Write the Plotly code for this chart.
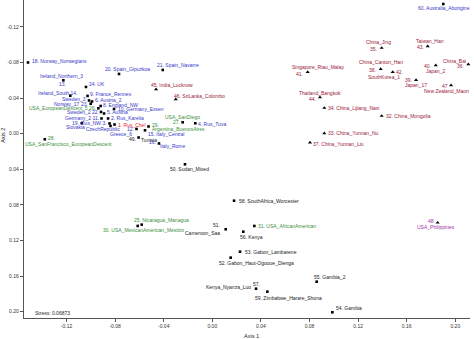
import plotly.graph_objects as go

# ---------------- data ----------------
NAMES = ["Norway_Norwegians", "Spain_Gipuzkoa", "Spain_Navarre", "Ireland_Northern_3", "UK",
         "Ireland_South", "France_Rennes", "Norway_17", "Sweden_3", "Austria_2",
         "England_NW", "USA_EuropeanDescent_5", "Germany_Essen", "Sweden_2", "Austria",
         "Germany_2", "Rus_Karelia", "Slovakia", "Rus_NW", "CzechRepublic",
         "Rus_Chel", "Greece_6", "Argentina_BuenosAires", "Italy_Central", "Tunisia",
         "Italy_Rome", "USA_SanDiego", "Rus_Tuva", "USA_SanFrancisco_EuropeanDescent", "Sudan_Mixed",
         "Australia_Aborigine", "India_Lucknow", "SriLanka_Colombo", "Singapore_Riau_Malay", "Thailand_Bangkok",
         "China_Lijiang_Naxi", "China_Yunnan_Nu", "China_Yunnan_Liu", "China_Mongolia", "China_Jing",
         "Taiwan_Han", "China_Canton_Han", "SouthKorea_1", "Japan_2", "Japan_17",
         "China_Bai", "New Zealand_Maori", "Nicaragua_Managua", "USA_MexicanAmerican_Mestizo", "USA_AfricanAmerican",
         "USA_Philippines", "SouthAfrica_Worcester", "Cameroon_Saa", "Kenya", "Gabon_Lambarene",
         "Gabon_Haut-Ogooue_Dienga", "Gambia_2", "Kenya_Nyanza_Luo", "Zimbabwe_Harare_Shona", "Gambia"]
NUMS = [18, 20, 21, 13, 24, 14, 9, 17, 23, 6,
        8, 26, 10, 22, 5, 11, 2, 19, 3, 7,
        1, 12, 29, 15, 49, 16, 27, 4, 28, 50,
        60, 45, 46, 41, 44, 34, 33, 37, 32, 35,
        43, 38, 42, 40, 39, 36, 47, 25, 30, 31,
        48, 58, 51, 56, 53, 52, 55, 57, 59, 54]
AXIS1 = [-0.1517, -0.0768, -0.0408, -0.1226, -0.1040, -0.1169, -0.1027, -0.1015, -0.1001, -0.0990,
         -0.0919, -0.0938, -0.0809, -0.0916, -0.0891, -0.0912, -0.0858, -0.1075, -0.0846, -0.0838,
         -0.0805, -0.0624, -0.0525, -0.0554, -0.0607, -0.0439, -0.0244, -0.0140, -0.1379, -0.0225,
         0.1901, -0.0463, -0.0301, 0.0785, 0.0886, 0.0922, 0.0922, 0.0804, 0.1394, 0.1394,
         0.1773, 0.1386, 0.1485, 0.1839, 0.1677, 0.2107, 0.1965, -0.0581, -0.0614, 0.0346,
         0.1855, 0.0179, 0.0110, 0.0255, 0.0228, 0.0151, 0.0859, 0.0360, 0.0453, 0.0988]
AXIS2 = [-0.0800, -0.0671, -0.0716, -0.0600, -0.0525, -0.0427, -0.0424, -0.0373, -0.0337, -0.0362,
         -0.0311, -0.0285, -0.0278, -0.0244, -0.0227, -0.0171, -0.0171, -0.0117, -0.0115, -0.0087,
         -0.0103, -0.0053, -0.0081, -0.0038, 0.0043, 0.0110, -0.0128, -0.0117, 0.0063, 0.0344,
         -0.1457, -0.0499, -0.0387, -0.0693, -0.0409, -0.0289, -0.0004, 0.0101, -0.0199, -0.0963,
         -0.0982, -0.0727, -0.0693, -0.0769, -0.0603, -0.0780, -0.0544, 0.1022, 0.1037, 0.1037,
         0.1000, 0.0753, 0.1074, 0.1101, 0.1326, 0.1393, 0.1663, 0.1742, 0.1775, 0.2007]
GROUP = (["EU"] * 11 + ["AM"] + ["EU"] * 8 + ["HL", "EU", "AM", "EU", "AF", "EU", "AM", "EU", "AM", "AF"]
         + ["OC"] + ["AS"] * 16 + ["AM", "AM", "AM", "PH"] + ["AF"] * 9)

TICKS = [-0.12, -0.08, -0.04, 0.00, 0.04, 0.08, 0.12, 0.16, 0.20]
TICK_LABELS = ["-0.12", "-0.08", "-0.04", "0.00", "0.04", "0.08", "0.12", "0.16", "0.20"]
STRESS = "Stress: 0.06873"

# ---------------- styles ----------------
COLORS = {"EU": "#3838c8", "OC": "#3838c8", "AS": "#9a2038", "AM": "#3a8f3a",
          "AF": "#1a1a1a", "PH": "#a030a8", "HL": "#e4231f"}
SYMBOLS = {"EU": "square", "OC": "square", "AS": "triangle-up", "AM": "square",
           "AF": "square", "PH": "triangle-up", "HL": "square"}

# label parts per point: (template, anchor, dx px, dy px downward)
LABELS = [
    [("{n}. {name}", 'l', 3, -1.5)],
    [("{n}. {name}", 'c', 8, -4.5)],
    [("{n}. {name}", 'c', 15, -5)],
    [("{name}", 'c', -2, -4), ("{n}.", 'c', -1, 4)],
    [("{n}. {name}", 'l', 2, -2.5)],
    [("{name} {n}.", 'r', 8, -3)],
    [("{n}. {name}", 'l', 1.5, -2)],
    [("{name}", 'r', -8, 3.5)],
    [("{name}", 'r', -3.7, -4.7), ("{n}.", 'r', -2.2, 0.3)],
    [("{n}. {name}", 'l', 1.5, -1.5)],
    [("{n}. {name}", 'l', 1.5, -1.5)],
    [("{name} {n}.", 'r', -1.5, 0)],
    [("{n}. {name}", 'l', 3, 0)],
    [("{name} {n}.", 'r', -1, 0)],
    [("{n}. {name}", 'l', 1.5, -1)],
    [("{name} {n}.", 'r', -1.5, -0.8)],
    [("{n}. {name}", 'l', 2, -0.8)],
    [("{n}.", 'r', -1.5, 0), ("{name}", 'c', -6, 3.7)],
    [("{name} {n}.", 'r', -2, -0.7)],
    [("{name}", 'c', -7.5, 3.5)],
    [("{n}. {name}", 'l', 2, 0)],
    [("{n}.", 'r', -1.5, 0), ("{name}", 'c', -16, 4.7)],
    [("{n}.", 'l', 2, -1.5), ("{name}", 'l', 2.5, 3)],
    [("{n}. {name}", 'l', 2, 4)],
    [("{n}.", 'r', -1.5, 1.7), ("{name}", 'l', 1.5, 2)],
    [("{n}.", 'r', -1.5, -1), ("{name}", 'l', 0, 3)],
    [("{name}", 'c', 0, -5), ("{n}.", 'r', -2, 0)],
    [("{n}. {name}", 'l', 2, 0.5)],
    [("{n}.", 'l', 2, -1.5), ("{name}", 'c', 24, 4.7)],
    [("{n}. {name}", 'c', 5, 5)],
    [("{n}. {name}", 'c', 1, 4.3)],
    [("{n}. {name}", 'c', 16, -4.3)],
    [("{n}. {name}", 'l', -2.7, -3.3)],
    [("{name}", 'c', 10, -5), ("{n}.", 'r', -4, 2)],
    [("{name}", 'c', 0, -4), ("{n}.", 'r', -2.5, 2)],
    [("{n}. {name}", 'l', 2.5, 0)],
    [("{n}. {name}", 'l', 2.5, 0)],
    [("{n}. {name}", 'l', 2, 1.3)],
    [("{n}. {name}", 'l', 3, 0)],
    [("{name}", 'c', -3, -5.7), ("{n}.", 'r', -4, 0.7)],
    [("{name}", 'c', 2.3, -5.6), ("{n}.", 'r', -2.5, 0.7)],
    [("{name}", 'c', 0, -6.7), ("{n}.", 'r', -4, 1)],
    [("{n}.", 'l', 2.5, 0), ("{name}", 'c', -8.7, 5.3)],
    [("{n}.", 'r', -4, 1), ("{name}", 'c', 0, 5.4)],
    [("{n}.", 'r', -3, 0), ("{name}", 'c', 0, 5)],
    [("{name}", 'r', -1, -3.6), ("{n}.", 'r', -3, 2)],
    [("{n}", 'r', -2, 0.7), ("{name}", 'c', -5, 5.4)],
    [("{n}. {name}", 'c', 20, -5)],
    [("{n}. {name}", 'c', 6, 4)],
    [("{n}. {name}", 'l', 2.5, 0)],
    [("{n}", 'r', -3, -1.4), ("{name}", 'c', -2, 4.6)],
    [("{n}. {name}", 'l', 4, 0)],
    [("{n}.", 'r', -4.7, -4.3), ("{name}", 'c', -22.7, 3.4)],
    [("{n}. {name}", 'c', 8, 5.6)],
    [("{n}. {name}", 'l', 4, 0)],
    [("{n}. {name}", 'c', 26, 5.6)],
    [("{n}. {name}", 'c', 13, -5)],
    [("{n}.", 'c', 0.5, -4.7), ("{name}", 'r', -4, -2)],
    [("{n}. {name}", 'c', 21, 6)],
    [("{n}. {name}", 'l', 3, -4)],
]

FONT = "Liberation Sans, Arial, sans-serif"
ANCH = {'l': 'left', 'c': 'center', 'r': 'right'}

fig = go.Figure()
for g in ["EU", "AM", "AF", "AS", "OC", "PH", "HL"]:
    idx = [i for i, gg in enumerate(GROUP) if gg == g]
    if not idx:
        continue
    fig.add_trace(go.Scatter(
        x=[AXIS1[i] for i in idx], y=[AXIS2[i] for i in idx], mode="markers",
        marker=dict(symbol=SYMBOLS[g], size=3.6 if SYMBOLS[g] == "triangle-up" else 2.6,
                    color="#000000", line=dict(width=0)),
        hoverinfo="text", text=[NAMES[i] for i in idx], showlegend=False,
        cliponaxis=False))

annotations = []
for i, parts in enumerate(LABELS):
    col = COLORS[GROUP[i]]
    for tmpl, anc, dx, dy in parts:
        annotations.append(dict(
            x=AXIS1[i], y=AXIS2[i], xref="x", yref="y", showarrow=False,
            text=tmpl.format(n=NUMS[i], name=NAMES[i]),
            xanchor=ANCH[anc], yanchor="middle", xshift=dx, yshift=-dy,
            borderpad=0, font=dict(family=FONT, size=5, color=col)))

annotations += [
    dict(text="Axis 1", xref="paper", yref="paper", x=0.511, y=-0.057, showarrow=False,
         xanchor="center", yanchor="middle", font=dict(family=FONT, size=5.5, color="#222")),
    dict(text="Axis 2", xref="paper", yref="paper", x=-0.046, y=0.575, showarrow=False,
         textangle=-90, xanchor="center", yanchor="middle", font=dict(family=FONT, size=5.5, color="#222")),
    dict(text=STRESS, xref="paper", yref="paper", x=0.02, y=0.017, showarrow=False,
         xanchor="left", yanchor="middle", font=dict(family=FONT, size=5, color="#222")),
]

axis_common = dict(showline=True, linecolor="#555555", linewidth=1.4, ticks="outside",
                   ticklen=3, tickwidth=1, tickcolor="#555555", showgrid=False, zeroline=False,
                   tickfont=dict(family=FONT, size=5, color="#333333"),
                   tickvals=TICKS, ticktext=TICK_LABELS)

fig.update_layout(
    width=474, height=339, autosize=False,
    margin=dict(l=24, r=4, t=0, b=21, pad=0),
    plot_bgcolor="white", paper_bgcolor="white",
    xaxis=dict(range=[-0.155, 0.2121], **axis_common),
    yaxis=dict(range=[0.2071, -0.1502], **axis_common),
    annotations=annotations,
)

fig.write_html("out.html")
